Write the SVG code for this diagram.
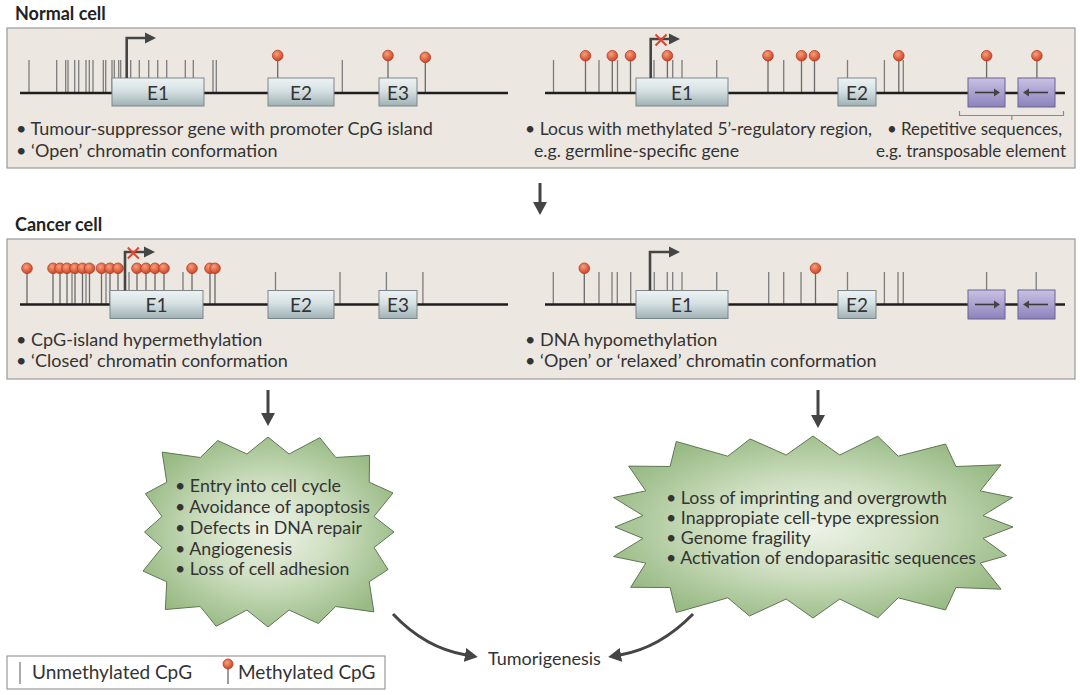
<svg xmlns="http://www.w3.org/2000/svg" width="1080" height="695" viewBox="0 0 1080 695">
<defs>
<linearGradient id="gExon" x1="0" y1="0" x2="0" y2="1">
<stop offset="0" stop-color="#eef3f4"/><stop offset="0.45" stop-color="#d6e1e3"/><stop offset="1" stop-color="#9fb1b5"/>
</linearGradient>
<linearGradient id="gRep" x1="0" y1="0" x2="0" y2="1">
<stop offset="0" stop-color="#c9c2e4"/><stop offset="1" stop-color="#8c82bb"/>
</linearGradient>
<radialGradient id="gHead" cx="0.4" cy="0.35" r="0.65">
<stop offset="0" stop-color="#f6a07c"/><stop offset="1" stop-color="#cf4325"/>
</radialGradient>
<radialGradient id="gStar" cx="0.5" cy="0.5" r="0.55">
<stop offset="0" stop-color="#eef3e8"/><stop offset="0.45" stop-color="#d0e0c3"/><stop offset="1" stop-color="#98ba84"/>
</radialGradient>
<marker id="ah" markerUnits="userSpaceOnUse" markerWidth="14" markerHeight="14" refX="1" refY="7" orient="auto">
<path d="M0,0 L13,7 L0,14 z" fill="#454545"/>
</marker>
<style>
.panel{fill:#ece7e0;stroke:#9a9a9a;stroke-width:1.2}
.dna{stroke:#1e1e1e;stroke-width:2.6;fill:none}
.um{stroke:#7d7d7d;stroke-width:1.3;fill:none}
.ms{stroke:#6a6a6a;stroke-width:1.3;fill:none}
.mh{fill:url(#gHead);stroke:#b53b22;stroke-width:0.8}
.exon{fill:url(#gExon);stroke:#7c8789;stroke-width:1}
.rep{fill:url(#gRep);stroke:#6b6392;stroke-width:1}
.tss{stroke:#454545;stroke-width:2.6;fill:none}
.tssh{fill:#454545}
.x{stroke:#e0442e;stroke-width:2}
.t{font-family:Lato,"Liberation Sans",sans-serif;fill:#333;font-size:18px}
.ttl{font-family:Lato,"Liberation Sans",sans-serif;fill:#222;font-size:18px;font-weight:bold}
.el{font-family:Lato,"Liberation Sans",sans-serif;fill:#333;font-size:19px;text-anchor:middle}
.st{font-family:Lato,"Liberation Sans",sans-serif;fill:#333;font-size:17.8px}
.lg{font-family:Lato,"Liberation Sans",sans-serif;fill:#333;font-size:19px}
.star{fill:url(#gStar);stroke:#5f7654;stroke-width:1}
.conn{stroke:#454545;stroke-width:3;fill:none}
.ra{stroke:#3a3a3a;stroke-width:1.6;fill:none}
</style>
</defs>
<rect width="1080" height="695" fill="#ffffff"/>

<g id="title-normal"><text class="ttl" x="15" y="20">Normal cell</text></g>

<g id="panel-normal">
<rect class="panel" x="7" y="28" width="1068" height="140"/>
<g id="normal-tsg">
<path class="um" d="M29 60V93M56.7 60V93M65.7 60V93M68 60V93M74.7 60V93M78.7 60V93M86 60V93M89.3 60V93M93 60V93M103.3 60V93M105.7 60V93M112 60V93M114.3 60V93M118.7 60V93M120.7 60V93M130.7 60V93M139.3 60V93M148.7 60V93M157.7 60V93M166.7 60V93M185.3 60V93M193.3 60V93M213 60V93M216.3 60V93M342.3 60V93"/>
<path class="ms" d="M277.7 56V93M388 56V93M425.3 57V93"/>
<line class="dna" x1="20" y1="93" x2="508" y2="93"/>
<rect class="exon" x="112" y="78" width="92" height="28"/>
<rect class="exon" x="268" y="78" width="66" height="28"/>
<rect class="exon" x="379" y="78" width="38" height="28"/>
<text class="el" x="158" y="99.5">E1</text>
<text class="el" x="301" y="99.5">E2</text>
<text class="el" x="398" y="99.5">E3</text>
<circle class="mh" cx="277.7" cy="55.5" r="5.3"/>
<circle class="mh" cx="388" cy="55.5" r="5.3"/>
<circle class="mh" cx="425.3" cy="57.3" r="5.3"/>
<path class="tss" d="M126.7 78V38H146"/>
<path class="tssh" d="M145 32.5L156 38L145 43.5z"/>
<text class="t" x="16" y="135">• Tumour-suppressor gene with promoter CpG island</text>
<text class="t" x="16" y="157">• ‘Open’ chromatin conformation</text>
</g>
<g id="normal-germline">
<path class="um" d="M553.5 60V93M599 60V93M617.5 60V93M654 60V93M672.7 60V93M682 60V93M716.7 60V93M783.7 60V93M847.5 60V93M884.4 60V93M903.3 60V93"/>
<path class="ms" d="M585.5 56V93M612.3 56V93M630.5 56V93M667.4 56V93M768 56V93M801.5 56V93M814.5 56V93M898.8 56V93M986.6 56V93M1036.9 56V93"/>
<line class="dna" x1="545" y1="93" x2="1065" y2="93"/>
<rect class="exon" x="636" y="78" width="92" height="28"/>
<rect class="exon" x="838" y="78" width="38" height="28"/>
<text class="el" x="682" y="99.5">E1</text>
<text class="el" x="857" y="99.5">E2</text>
<rect class="rep" x="968" y="78" width="37" height="29"/>
<rect class="rep" x="1018" y="78" width="37" height="29"/>
<path class="ra" d="M975 92.5H995"/><path class="tssh" d="M994 88.5L1000 92.5L994 96.5z"/>
<path class="ra" d="M1048 92.5H1028"/><path class="tssh" d="M1029 88.5L1023 92.5L1029 96.5z"/>
<path d="M959.5 111V115.5H1063.5V111M1011.8 115.5V120" fill="none" stroke="#8a8a8a" stroke-width="1.2"/>
<circle class="mh" cx="585.5" cy="55.7" r="5.3"/>
<circle class="mh" cx="612.3" cy="55.7" r="5.3"/>
<circle class="mh" cx="630.5" cy="55.7" r="5.3"/>
<circle class="mh" cx="667.4" cy="55.7" r="5.3"/>
<circle class="mh" cx="768" cy="55.7" r="5.3"/>
<circle class="mh" cx="801.5" cy="55.7" r="5.3"/>
<circle class="mh" cx="814.5" cy="55.7" r="5.3"/>
<circle class="mh" cx="898.8" cy="55.7" r="5.3"/>
<circle class="mh" cx="986.6" cy="55.7" r="5.3"/>
<circle class="mh" cx="1036.9" cy="55.7" r="5.3"/>
<path class="tss" d="M650.7 78V39H670"/>
<path class="tssh" d="M669 33.5L680 39L669 44.5z"/>
<path class="x" d="M655.5 34.5L666.5 45.5M655.5 45.5L666.5 34.5"/>
<text class="t" x="525" y="135" textLength="347" lengthAdjust="spacingAndGlyphs">• Locus with methylated 5’-regulatory region,</text>
<text class="t" x="534" y="157" textLength="205" lengthAdjust="spacingAndGlyphs">e.g. germline-specific gene</text>
<text class="t" x="887" y="135" textLength="175" lengthAdjust="spacingAndGlyphs">• Repetitive sequences,</text>
<text class="t" x="876" y="157" textLength="190" lengthAdjust="spacingAndGlyphs">e.g. transposable element</text>
</g>
</g>

<g id="title-cancer"><text class="ttl" x="15" y="231">Cancer cell</text></g>

<g id="panel-cancer">
<rect class="panel" x="7" y="239" width="1068" height="140"/>
<g id="cancer-tsg">
<path class="um" d="M72 272V304.5M86 272V304.5M106 272V304.5M129 272V304.5M183 272V304.5M275.5 272V304.5M340 272V304.5M386.4 272V304.5M422.9 272V304.5"/>
<path class="ms" d="M27 269V304.5M53 269V304.5M60 269V304.5M67 269V304.5M75 269V304.5M82.5 269V304.5M89.5 269V304.5M101.5 269V304.5M110 269V304.5M118 269V304.5M137 269V304.5M146 269V304.5M155 269V304.5M164 269V304.5M192 269V304.5M210 269V304.5M215 269V304.5"/>
<line class="dna" x1="20" y1="304.5" x2="508" y2="304.5"/>
<rect class="exon" x="110" y="290.5" width="93" height="28"/>
<rect class="exon" x="268" y="290.5" width="66" height="28"/>
<rect class="exon" x="379" y="290.5" width="38" height="28"/>
<text class="el" x="156.5" y="311.5">E1</text>
<text class="el" x="301" y="311.5">E2</text>
<text class="el" x="398" y="311.5">E3</text>
<g>
<circle class="mh" cx="27" cy="268.3" r="5.3"/>
<circle class="mh" cx="53" cy="268.3" r="5.3"/>
<circle class="mh" cx="60" cy="268.3" r="5.3"/>
<circle class="mh" cx="67" cy="268.3" r="5.3"/>
<circle class="mh" cx="75" cy="268.3" r="5.3"/>
<circle class="mh" cx="82.5" cy="268.3" r="5.3"/>
<circle class="mh" cx="89.5" cy="268.3" r="5.3"/>
<circle class="mh" cx="101.5" cy="268.3" r="5.3"/>
<circle class="mh" cx="110" cy="268.3" r="5.3"/>
<circle class="mh" cx="118" cy="268.3" r="5.3"/>
<circle class="mh" cx="137" cy="268.3" r="5.3"/>
<circle class="mh" cx="146" cy="268.3" r="5.3"/>
<circle class="mh" cx="155" cy="268.3" r="5.3"/>
<circle class="mh" cx="164" cy="268.3" r="5.3"/>
<circle class="mh" cx="192" cy="268.3" r="5.3"/>
<circle class="mh" cx="210" cy="268.3" r="5.3"/>
<circle class="mh" cx="215" cy="268.3" r="5.3"/>
</g>
<path class="tss" d="M125 290.5V252H145"/>
<path class="tssh" d="M144 246.5L155 252L144 257.5z"/>
<path class="x" d="M127.8 247.5L138.8 258.5M127.8 258.5L138.8 247.5"/>
<text class="t" x="16" y="346">• CpG-island hypermethylation</text>
<text class="t" x="16" y="367">• ‘Closed’ chromatin conformation</text>
</g>
<g id="cancer-hypo">
<path class="um" d="M553.3 272V304.5M599 272V304.5M612 272V304.5M617.3 272V304.5M630.7 272V304.5M654.3 272V304.5M667.3 272V304.5M672.7 272V304.5M682 272V304.5M716.7 272V304.5M768.7 272V304.5M783.7 272V304.5M801 272V304.5M847.5 272V304.5M884.4 272V304.5M898 272V304.5M903.3 272V304.5M986.6 272V304.5M1036.2 272V304.5"/>
<path class="ms" d="M584.3 269V304.5M815.5 269V304.5"/>
<line class="dna" x1="545" y1="304.5" x2="1065" y2="304.5"/>
<rect class="exon" x="636" y="290.5" width="92" height="28"/>
<rect class="exon" x="838" y="290.5" width="38" height="28"/>
<text class="el" x="682" y="311.5">E1</text>
<text class="el" x="857" y="311.5">E2</text>
<rect class="rep" x="968" y="290" width="37" height="29"/>
<rect class="rep" x="1018" y="290" width="37" height="29"/>
<path class="ra" d="M975 304.5H995"/><path class="tssh" d="M994 300.5L1000 304.5L994 308.5z"/>
<path class="ra" d="M1048 304.5H1028"/><path class="tssh" d="M1029 300.5L1023 304.5L1029 308.5z"/>
<circle class="mh" cx="584.3" cy="268.3" r="5.3"/>
<circle class="mh" cx="815.5" cy="268.3" r="5.3"/>
<path class="tss" d="M650 290.5V252H670"/>
<path class="tssh" d="M669 246.5L680 252L669 257.5z"/>
<text class="t" x="525" y="346">• DNA hypomethylation</text>
<text class="t" x="525" y="367">• ‘Open’ or ‘relaxed’ chromatin conformation</text>
</g>
</g>

<g id="connectors">
<line class="conn" x1="540" y1="183" x2="540" y2="203" marker-end="url(#ah)"/>
<line class="conn" x1="268" y1="390" x2="268" y2="414" marker-end="url(#ah)"/>
<line class="conn" x1="818" y1="390" x2="818" y2="416" marker-end="url(#ah)"/>
<path class="conn" d="M393 614Q425 648 466 655" marker-end="url(#ah)"/>
<path class="conn" d="M693 614Q660 648 620 655" marker-end="url(#ah)"/>
</g>

<g id="star-left">
<polygon class="star" points="394,532 374,547.5 388,569.5 369.2,581.8 373.9,611.9 335.7,606.5 318.3,623.5 289.1,610 268,627 246.9,610 216.2,626.3 200.3,606.5 165.3,609.5 166.8,581.8 143,571.1 162,547.5 144.5,532 162,516.5 145.4,493.7 166.8,482.2 162.1,452.1 200.3,457.5 217.7,440.5 246.9,454 268,437 289.1,454 319.8,437.7 335.7,457.5 369.6,455.4 369.2,482.2 393,492.9 374,516.5"/>
<text class="st" x="175" y="492">• Entry into cell cycle</text>
<text class="st" x="175" y="513">• Avoidance of apoptosis</text>
<text class="st" x="175" y="534">• Defects in DNA repair</text>
<text class="st" x="175" y="555">• Angiogenesis</text>
<text class="st" x="175" y="575">• Loss of cell adhesion</text>
</g>

<g id="star-right">
<polygon class="star" points="1013,527 983,538.4 1006.6,555.6 980.2,563.1 1001,589.2 955.9,587.5 945.5,610 898.2,597.8 877.8,617.8 839.8,599 813,618 786.2,599 749.5,616 727.8,597.8 676.3,612.5 670.1,587.5 630.7,587.3 645.8,563.1 613.5,556.5 643,538.4 615,527 643,515.6 613.5,497.5 645.8,490.9 628.7,466.1 670.1,466.5 676.3,441.5 727.8,456.2 750.1,438.9 786.2,455 813,436 839.8,455 877.8,436.2 898.2,456.2 945.5,444 955.9,466.5 1001,464.8 980.2,490.9 1012.5,497.5 983,515.6"/>
<text class="st" x="666" y="504">• Loss of imprinting and overgrowth</text>
<text class="st" x="666" y="524">• Inappropiate cell-type expression</text>
<text class="st" x="666" y="544">• Genome fragility</text>
<text class="st" x="666" y="564">• Activation of endoparasitic sequences</text>
</g>

<g id="tumorigenesis"><text class="t" x="488" y="665">Tumorigenesis</text></g>

<g id="legend">
<rect x="7" y="656" width="378" height="33" fill="#ffffff" stroke="#9a9a9a" stroke-width="1.2"/>
<line class="um" x1="20" y1="662" x2="20" y2="684"/>
<text class="lg" x="32" y="679">Unmethylated CpG</text>
<line class="ms" x1="228" y1="665" x2="228" y2="684"/>
<circle class="mh" cx="228" cy="664" r="5"/>
<text class="lg" x="238" y="679">Methylated CpG</text>
</g>
</svg>
